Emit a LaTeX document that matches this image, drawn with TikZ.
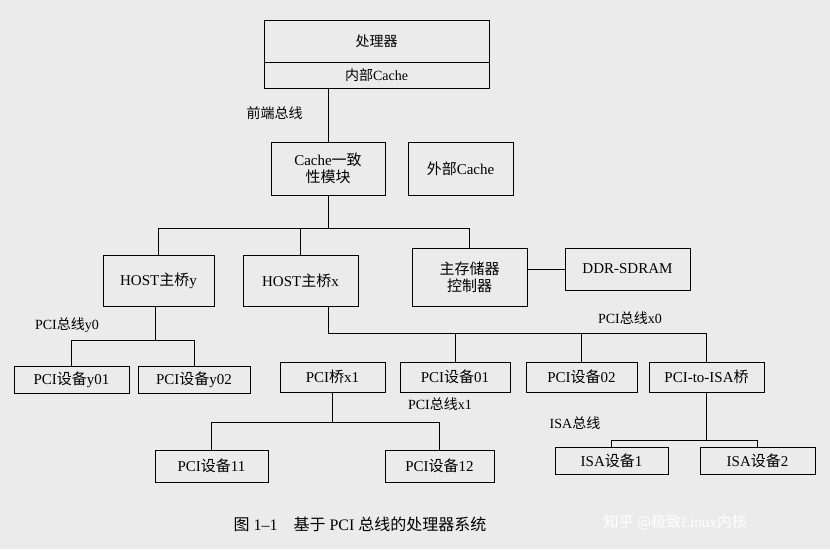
\documentclass[tikz,border=0pt]{standalone}
\usepackage{fontspec}
\setmainfont{Liberation Serif}
\newfontfamily\cjk{Noto Sans CJK SC}
\begin{document}
\begin{tikzpicture}[x=1pt,y=-1pt,
  bx/.style={draw,line width=0.9pt,inner sep=0pt,font=\fontsize{15}{17}\selectfont,align=center},
  ln/.style={line width=0.9pt},
  lb/.style={font=\fontsize{14}{16}\selectfont}]
\fill[black!8] (0,0) rectangle (830,549);
\useasboundingbox (0,0) rectangle (830,549);
% processor
\node[bx,minimum width=225,minimum height=68] (cpu) at (376.5,54) {};
\draw[ln] (264,62) -- (489,62);
\node[lb] (cpuT) at (376.5,41) {\cjk 处理器};
\node[lb] (cpuC) at (376.5,75) {{\cjk 内部}Cache};
\node[bx,minimum width=114,minimum height=53] (coh) at (328,168.5) {Cache{\cjk 一致}\\{\cjk 性模块}};
\node[bx,minimum width=105,minimum height=53] (ext) at (460.5,168.5) {{\cjk 外部}Cache};
\node[lb,anchor=west] (fsb) at (243,113) {\cjk 前端总线};
\draw[ln] (cpu.south -| coh.north) -- (coh.north);
% hosts
\node[bx,minimum width=111,minimum height=51] (hy) at (158.5,280.5) {HOST{\cjk 主桥}y};
\node[bx,minimum width=115,minimum height=51] (hx) at (300.5,280.5) {HOST{\cjk 主桥}x};
\node[bx,minimum width=115,minimum height=58] (mc) at (469.5,277) {{\cjk 主存储器}\\{\cjk 控制器}};
\node[bx,minimum width=125,minimum height=42] (ddr) at (627.5,269) {DDR-SDRAM};
\coordinate (b0) at (328,228);
\draw[ln] (coh.south) -- (b0);
\draw[ln] (hy.north |- b0) -- (mc.north |- b0);
\draw[ln] (hy.north |- b0) -- (hy.north);
\draw[ln] (hx.north |- b0) -- (hx.north);
\draw[ln] (mc.north |- b0) -- (mc.north);
\draw[ln] (mc.east |- ddr.west) -- (ddr.west);
% y0 bus
\node[lb] (ly0) at (67,325) {PCI{\cjk 总线}y0};
\node[bx,minimum width=115,minimum height=27] (y01) at (71.5,379.5) {PCI{\cjk 设备}y01};
\node[bx,minimum width=112,minimum height=27] (y02) at (194,379.5) {PCI{\cjk 设备}y02};
\coordinate (by) at (155,340);
\draw[ln] (hy.south -| by) -- (by);
\draw[ln] (y01.north |- by) -- (y02.north |- by);
\draw[ln] (y01.north |- by) -- (y01.north);
\draw[ln] (y02.north |- by) -- (y02.north);
% x0 bus
\node[lb] (lx0) at (630,318) {PCI{\cjk 总线}x0};
\node[bx,minimum width=105,minimum height=30] (bx1) at (332.5,377) {PCI{\cjk 桥}x1};
\node[bx,minimum width=110,minimum height=30] (d01) at (455,377) {PCI{\cjk 设备}01};
\node[bx,minimum width=111,minimum height=30] (d02) at (581.5,377) {PCI{\cjk 设备}02};
\node[bx,minimum width=115,minimum height=30] (isa) at (706.5,377) {PCI-to-ISA{\cjk 桥}};
\coordinate (bx0) at (328,333);
\draw[ln] (hx.south -| bx0) -- (bx0);
\draw[ln] (bx0) -- (isa.north |- bx0);
\foreach \n in {d01,d02,isa} \draw[ln] (\n.north |- bx0) -- (\n.north);
% x1 bus
\node[lb] (lx1) at (440,404) {PCI{\cjk 总线}x1};
\node[bx,minimum width=113,minimum height=32] (d11) at (211.5,466) {PCI{\cjk 设备}11};
\node[bx,minimum width=109,minimum height=32] (d12) at (439.5,466) {PCI{\cjk 设备}12};
\coordinate (bx1b) at (332.5,422);
\draw[ln] (bx1.south) -- (bx1b);
\draw[ln] (d11.north |- bx1b) -- (d12.north |- bx1b);
\draw[ln] (d11.north |- bx1b) -- (d11.north);
\draw[ln] (d12.north |- bx1b) -- (d12.north);
% ISA bus
\node[lb] (lisa) at (575,423) {ISA{\cjk 总线}};
\node[bx,minimum width=113,minimum height=27] (i1) at (611.5,460.5) {ISA{\cjk 设备}1};
\node[bx,minimum width=115,minimum height=27] (i2) at (757.5,460.5) {ISA{\cjk 设备}2};
\coordinate (bi) at (706.5,440);
\draw[ln] (isa.south) -- (bi);
\draw[ln] (i1.north |- bi) -- (i2.north |- bi);
\draw[ln] (i1.north |- bi) -- (i1.north);
\draw[ln] (i2.north |- bi) -- (i2.north);
% caption
\node[font=\fontsize{16}{18}\selectfont,anchor=west] (cap) at (230,524) {{\cjk 图} 1--1\quad{\cjk 基于} PCI {\cjk 总线的处理器系统}};
\node[font=\fontsize{15}{17}\selectfont,text=white,anchor=west] (wm) at (600,522) {{\cjk 知乎 @极致}Linux{\cjk 内核}};
\end{tikzpicture}
\end{document}
